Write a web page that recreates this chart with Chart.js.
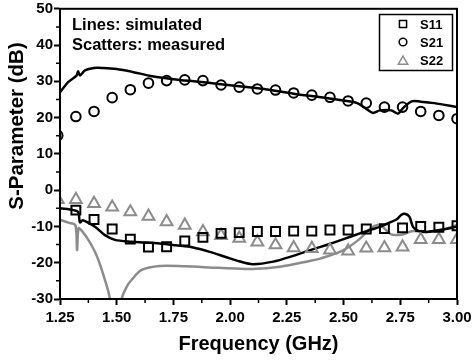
<!DOCTYPE html>
<html>
<head>
<meta charset="utf-8">
<script src="https://cdn.jsdelivr.net/npm/chart.js@4"></script>
<style>
  html, body { margin: 0; padding: 0; background: #fff; }
  #wrap { width: 474px; height: 360px; position: relative; }
</style>
</head>
<body>
<div id="wrap"><canvas id="sChart"></canvas></div>
<script>
// measured frequencies (GHz)
const measFreq = [1.24, 1.32, 1.40, 1.48, 1.56, 1.64, 1.72, 1.80, 1.88, 1.96, 2.04, 2.12,
    2.20, 2.28, 2.36, 2.44, 2.52, 2.60, 2.68, 2.76, 2.84, 2.92, 3.00];
const s11Meas = [null, -5.5, -8.1, -10.7, -13.5, -15.7, -15.6, -14.0, -13.0, -11.9, -11.7, -11.4,
    -11.4, -11.3, -11.3, -11.0, -11.0, -10.7, -10.6, -10.4, -10.0, -10.2, -9.8];
const s21Meas = [15.1, 20.3, 21.7, 25.5, 27.7, 29.5, 30.2, 30.4, 30.2, 29.0, 28.4, 27.9,
    27.6, 26.8, 26.2, 25.6, 24.6, 24.0, 22.9, 22.9, 21.7, 20.6, 19.7];
const s22Meas = [-2.6, -2.6, -3.7, -4.7, -6.0, -7.2, -8.7, -9.7, -11.5, -12.5, -13.3, -14.3,
    -15.1, -15.9, -16.1, -16.5, -16.8, -16.0, -15.9, -15.7, -13.6, -13.6, -13.6];

// simulated curves
const s11SimF = [1.25, 1.309, 1.33, 1.338, 1.35, 1.404, 1.448, 1.492, 1.566, 1.624, 1.69, 1.76,
    1.837, 1.91, 1.984, 2.04, 2.10, 2.19, 2.278, 2.35, 2.425, 2.50, 2.572, 2.62, 2.66, 2.70,
    2.733, 2.755, 2.77, 2.79, 2.806, 2.83, 2.865, 2.93, 3.00];
const s11Sim = [-5.0, -5.5, -6.0, -8.9, -8.3, -10.1, -12.4, -13.7, -14.2, -14.4, -14.7, -15.2,
    -15.8, -17.0, -18.5, -19.6, -20.4, -19.7, -18.1, -16.6, -15.1, -13.5, -11.9, -10.9, -10.1, -9.0,
    -8.1, -6.8, -6.5, -7.3, -10.1, -11.2, -11.5, -10.9, -10.1];

const s21SimF = [1.25, 1.286, 1.323, 1.33, 1.338, 1.36, 1.40, 1.44, 1.50, 1.57, 1.65, 1.75,
    1.84, 1.95, 2.05, 2.15, 2.28, 2.40, 2.50, 2.56, 2.60, 2.63, 2.66, 2.71, 2.74, 2.76,
    2.80, 2.84, 2.90, 3.00];
const s21Sim = [27.0, 29.8, 31.6, 32.8, 31.6, 33.0, 33.7, 33.7, 33.4, 32.6, 31.5, 30.6,
    30.0, 29.3, 28.6, 27.9, 26.6, 25.6, 24.7, 24.0, 22.4, 21.3, 22.0, 22.0, 21.1, 22.5,
    24.5, 24.4, 24.0, 22.9];

const s22SimF = [1.25, 1.29, 1.318, 1.325, 1.332, 1.35, 1.375, 1.40, 1.419, 1.448, 1.47, 1.495,
    1.522, 1.545, 1.566, 1.61, 1.69, 1.80, 1.95, 2.10, 2.22, 2.35, 2.40, 2.50, 2.57, 2.62,
    2.66, 2.71, 2.76, 2.80, 2.87, 2.93, 3.00];
const s22Sim = [-8.2, -9.0, -9.7, -16.5, -10.5, -11.5, -13.7, -16.5, -19.2, -24.7, -30, -45,
    -30, -26.5, -24.7, -22.0, -20.9, -21.0, -21.4, -21.7, -21.1, -19.5, -18.8, -16.5, -13.5, -10.5,
    -9.6, -12.2, -12.2, -11.3, -11.5, -11.0, -9.6];

const xTicks = [1.25, 1.50, 1.75, 2.00, 2.25, 2.50, 2.75, 3.00];
const yTicks = [-30, -20, -10, 0, 10, 20, 30, 40, 50];

const FONT = '"Liberation Sans", Arial, sans-serif';
const GRAY = '#8c8c8c';

function pts(xs, ys) {
    return xs.map((x, i) => ({ x: x, y: ys[i] }));
}

function simLine(xs, ys, color) {
    return {
        label: '',
        data: pts(xs, ys),
        showLine: true,
        borderColor: color,
        borderWidth: 2.5,
        pointRadius: 0,
        tension: 0.3,
        fill: false
    };
}

function measSet(label, ys, style, radius, color) {
    return {
        label: label,
        data: pts(measFreq, ys),
        showLine: false,
        pointStyle: style,
        pointRadius: radius,
        pointBorderWidth: 2,
        pointBorderColor: color,
        pointBackgroundColor: 'rgba(0,0,0,0)',
        borderColor: color
    };
}

// frame, minor ticks, texts and boxed legend
const decor = {
    id: 'decor',
    afterDraw(chart) {
        const ctx = chart.ctx;
        const a = chart.chartArea;
        const xs = chart.scales.x, ys = chart.scales.y;
        ctx.save();
        ctx.strokeStyle = '#000';
        ctx.lineWidth = 2;
        ctx.strokeRect(a.left, a.top, a.right - a.left, a.bottom - a.top);

        // minor ticks
        ctx.lineWidth = 1.5;
        ctx.beginPath();
        for (let v = 1.375; v < 3.0; v += 0.25) {
            const px = xs.getPixelForValue(v);
            ctx.moveTo(px, a.bottom);
            ctx.lineTo(px, a.bottom + 4);
        }
        for (let v = -25; v < 50; v += 10) {
            const py = ys.getPixelForValue(v);
            ctx.moveTo(a.left, py);
            ctx.lineTo(a.left - 4, py);
        }
        ctx.stroke();

        // y title
        ctx.fillStyle = '#000';
        ctx.font = 'bold 20.5px ' + FONT;
        ctx.textAlign = 'center';
        ctx.textBaseline = 'middle';
        ctx.translate(17, 126);
        ctx.rotate(-Math.PI / 2);
        ctx.fillText('S-Parameter (dB)', 0, 0);
        ctx.setTransform(1, 0, 0, 1, 0, 0);

        // notes
        ctx.font = 'bold 16.5px ' + FONT;
        ctx.textAlign = 'left';
        ctx.textBaseline = 'alphabetic';
        ctx.fillText('Lines: simulated', 72, 30);
        ctx.fillText('Scatters: measured', 72, 50);

        // legend box
        ctx.lineWidth = 1.5;
        ctx.strokeRect(379.5, 14.5, 73, 56);
        ctx.font = 'bold 13px ' + FONT;
        ctx.textBaseline = 'middle';
        let row = 0;
        chart.data.datasets.forEach(ds => {
            if (!ds.label) return;
            const y = 24 + row * 18;
            ctx.strokeStyle = ds.pointBorderColor;
            ctx.fillStyle = 'rgba(0,0,0,0)';
            Chart.helpers.drawPoint(ctx, {
                pointStyle: ds.pointStyle,
                radius: ds.pointRadius * 0.8,
                borderWidth: 2,
                rotation: 0
            }, 403, ds.pointStyle === 'triangle' ? y + 1.5 : y);
            ctx.fillStyle = '#000';
            ctx.fillText(ds.label, 420, y + 1);
            row++;
        });
        ctx.restore();
    }
};

const config = {
    type: 'scatter',
    data: {
        datasets: [
            measSet('S11', s11Meas, 'rect', 6.3, '#000'),
            measSet('S21', s21Meas, 'circle', 4.8, '#000'),
            measSet('S22', s22Meas, 'triangle', 6.8, GRAY),
            simLine(s11SimF, s11Sim, '#000'),
            simLine(s21SimF, s21Sim, '#000'),
            simLine(s22SimF, s22Sim, GRAY)
        ]
    },
    options: {
        responsive: true,
        maintainAspectRatio: false,
        animation: false,
        layout: { padding: { top: 8, right: 17, left: 0, bottom: 0 } },
        plugins: {
            legend: { display: false },
            tooltip: { enabled: false }
        },
        scales: {
            x: {
                type: 'linear',
                min: 1.25,
                max: 3.0,
                afterBuildTicks: s => { s.ticks = xTicks.map(v => ({ value: v })); },
                afterFit: s => { s.height = 61; s.paddingLeft = 0; s.paddingRight = 0; },
                ticks: {
                    color: '#000',
                    padding: 4,
                    maxRotation: 0,
                    font: { family: FONT, size: 15, weight: 'bold' },
                    callback: v => v.toFixed(2)
                },
                grid: { drawOnChartArea: false, tickLength: 6, tickWidth: 2, tickColor: '#000' },
                border: { display: true, color: '#000', width: 2 },
                title: {
                    display: true,
                    text: 'Frequency (GHz)',
                    color: '#000',
                    font: { family: FONT, size: 20, weight: 'bold' },
                    padding: { top: 0, bottom: 4 }
                }
            },
            y: {
                type: 'linear',
                min: -30,
                max: 50,
                afterBuildTicks: s => { s.ticks = yTicks.map(v => ({ value: v })); },
                afterFit: s => { s.width = 60; s.paddingTop = 0; s.paddingBottom = 0; },
                ticks: {
                    color: '#000',
                    padding: 1,
                    font: { family: FONT, size: 15, weight: 'bold' }
                },
                grid: { drawOnChartArea: false, tickLength: 6, tickWidth: 2, tickColor: '#000' },
                border: { display: true, color: '#000', width: 2 }
            }
        }
    },
    plugins: [decor]
};

const sChart = new Chart(document.getElementById('sChart'), config);
</script>
</body>
</html>
